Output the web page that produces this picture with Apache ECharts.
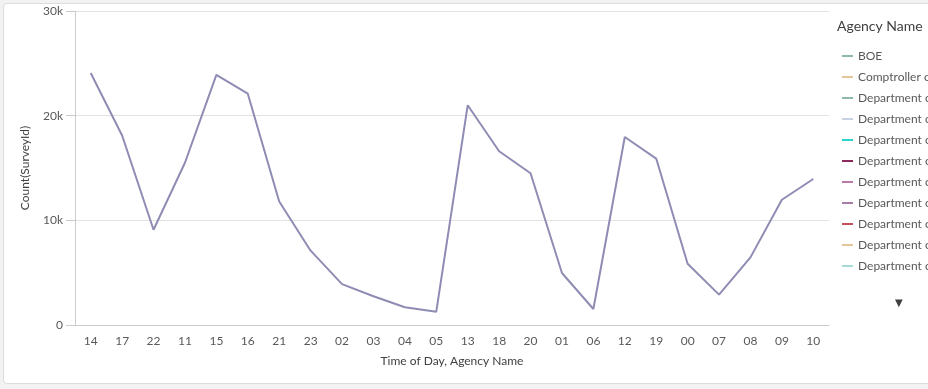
<!DOCTYPE html>
<html>
<head>
<meta charset="utf-8">
<script src="https://cdn.jsdelivr.net/npm/echarts@6/dist/echarts.min.js"></script>
<style>
html,body{margin:0;padding:0;background:#f2f2f2;width:928px;height:389px;overflow:hidden;}
#card{position:absolute;left:3px;top:3px;width:940px;height:379px;background:#fff;border:1px solid #dcdcdc;border-radius:4px;}
#chart{position:absolute;left:0;top:0;width:928px;height:389px;}
</style>
</head>
<body>
<div id="card"></div>
<div id="chart"></div>
<script>
const categories = ['14','17','22','11','15','16','21','23','02','03','04','05','13','18','20','01','06','12','19','00','07','08','09','10'];
const counts = [24070,18100,9100,15500,23900,22100,11800,7100,3900,2750,1700,1270,21000,16600,14500,4970,1530,17960,15900,5850,2900,6460,11970,13950];
const yTicks = [0,10000,20000,30000];
const agencyNames = ['BOE','Comptroller of the City','Department of Buildings','Department of Education','Department of Finance','Department of Health','Department of Housing','Department of Parks','Department of Sanitation','Department of Transportation','Department of Water'];
const agencyColors = ['#8fb9a8','#e6c49c','#8fb9a8','#c9d2e2','#2ad6c9','#8b2a5b','#b878a8','#a87ca8','#c4505e','#e6c49c','#a6dada'];

const chart = echarts.init(document.getElementById('chart'));
const fontFam = 'Lato, "Open Sans", sans-serif';

const agencySeries = agencyNames.map((n, i) => ({
  name: n, type: 'line', data: [], color: agencyColors[i],
  lineStyle: {color: agencyColors[i]}, itemStyle: {color: agencyColors[i]}
}));

chart.setOption({
  animation: false,
  textStyle: {fontFamily: fontFam},
  grid: {left: 75, right: 99, top: 11, bottom: 64, containLabel: false},
  legend: {
    orient: 'vertical', left: 837, top: 45, itemGap: 9,
    icon: 'rect', itemWidth: 11, itemHeight: 2,
    textStyle: {color: '#595959', fontSize: 12, fontFamily: fontFam, padding: [0,0,0,0]},
    data: agencyNames
  },
  graphic: [
    {type: 'text', left: 837, top: 19, style: {text: 'Agency Name', fill: '#404040', fontSize: 14, fontFamily: fontFam}},
    {type: 'text', left: 895, top: 298, style: {text: '▼', fill: '#404040', fontSize: 10, fontFamily: 'DejaVu Sans'}}
  ],
  xAxis: {
    type: 'category', data: categories, boundaryGap: true,
    name: 'Time of Day, Agency Name', nameLocation: 'middle', nameGap: 30,
    nameTextStyle: {color: '#404040', fontSize: 12, fontFamily: fontFam},
    axisLine: {lineStyle: {color: '#cccccc', width: 1}},
    axisTick: {show: false},
    axisLabel: {color: '#595959', fontSize: 12, margin: 10, interval: 0, fontFamily: fontFam}
  },
  yAxis: {
    type: 'value', min: 0, max: 30000, interval: 10000,
    name: 'Count(SurveyId)', nameLocation: 'middle', nameGap: 44,
    nameTextStyle: {color: '#404040', fontSize: 12, fontFamily: fontFam},
    axisLine: {show: true, lineStyle: {color: '#cccccc'}},
    axisTick: {show: true, length: 9, lineStyle: {color: '#cccccc'}},
    axisLabel: {color: '#595959', fontSize: 12, margin: 12, fontFamily: fontFam,
      formatter: v => yTicks.includes(v) ? (v === 0 ? '0' : (v/1000) + 'k') : ''},
    splitLine: {show: true, lineStyle: {color: '#e2e2e2'}}
  },
  series: [
    {name: 'Count', type: 'line', data: counts, symbol: 'none',
     lineStyle: {color: '#8f8cb4', width: 2}, itemStyle: {color: '#8f8cb4'}}
  ].concat(agencySeries)
});
</script>
</body>
</html>
